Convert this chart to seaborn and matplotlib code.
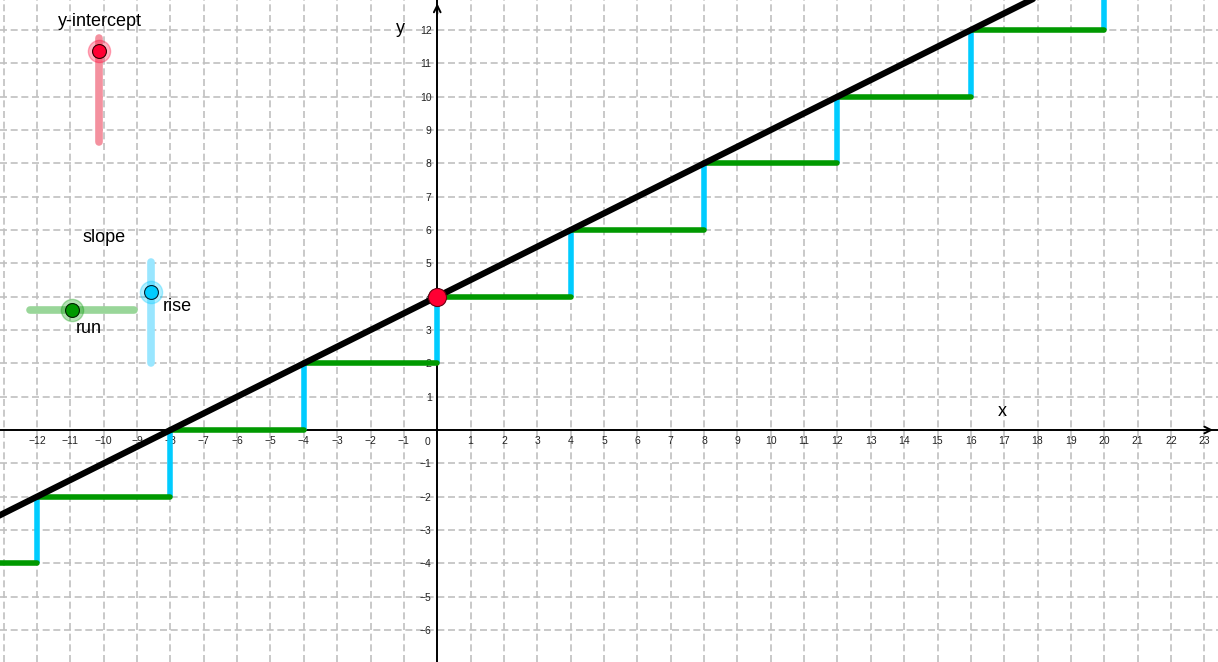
import numpy as np
import pandas as pd
import matplotlib
matplotlib.use("Agg")
import matplotlib.pyplot as plt
import seaborn as sns

# ---- data ----
y_intercept = 4
slope_run = 4
slope_rise = 2
step_x = [-16, -12, -8, -4, 0, 4, 8, 12, 16]
step_y = [-4, -2, 0, 2, 4, 6, 8, 10, 12]
line_x = [-14, 24]
x_grid = list(range(-13, 24))
y_grid = list(range(-6, 13))
x_tick_labels = ["" if v in (-13, 0) else str(v).replace("-", "\u2212") for v in x_grid]
y_tick_labels = ["" if v == 0 else str(v).replace("-", "\u2212") for v in y_grid]

sns.set_theme(style="white")
plt.rcParams['font.family'] = ['Liberation Sans', 'DejaVu Sans']
plt.rcParams['text.color'] = 'black'

fig = plt.figure(figsize=(12.18, 6.62), dpi=100)
ax = fig.add_axes([0, 0, 1, 1])
ax.set_xlim(-13.11, 23.41)
ax.set_ylim(-6.96, 12.9)

# grid
ax.set_xticks(x_grid)
ax.set_xticklabels(x_tick_labels)
ax.set_yticks(y_grid)
ax.set_yticklabels(y_tick_labels)
ax.grid(True, color="#c0c0c0", linestyle=(0, (4.2, 2.2)), linewidth=1.2, zorder=0)
ax.set_axisbelow(True)

# axes through origin
for s in ["top", "right"]:
    ax.spines[s].set_visible(False)
ax.spines["left"].set_position(("data", 0))
ax.spines["bottom"].set_position(("data", 0))
for s in ["left", "bottom"]:
    ax.spines[s].set_color("black")
    ax.spines[s].set_linewidth(1.4)
    ax.spines[s].set_zorder(2)
ax.tick_params(axis="both", which="major", labelsize=7.5, length=0,
               labelcolor="#222222")
ax.tick_params(axis="x", pad=4)
ax.tick_params(axis="y", pad=4)
ax.text(-0.2, -0.2, "0", fontsize=7.5, color="#222222", ha="right", va="top")

# arrowheads
ax.annotate("", xy=(23.35, 0), xytext=(22.9, 0),
            arrowprops=dict(arrowstyle="->", lw=1.4, color="black", mutation_scale=12))
ax.annotate("", xy=(0, 12.88), xytext=(0, 12.4),
            arrowprops=dict(arrowstyle="->", lw=1.4, color="black", mutation_scale=12))
ax.text(-1.1, 12.05, "y", fontsize=13, ha="center", va="center")
ax.text(16.95, 0.55, "x", fontsize=13, ha="center", va="center")

# staircase segments
green_rows, blue_rows = [], []
for i, (sx, sy) in enumerate(zip(step_x, step_y)):
    green_rows += [(i, sx, sy), (i, sx + slope_run, sy)]
    blue_rows += [(i, sx + slope_run, sy), (i, sx + slope_run, sy + slope_rise)]
green_df = pd.DataFrame(green_rows, columns=["seg", "x", "y"])
blue_df = pd.DataFrame(blue_rows, columns=["seg", "x", "y"])

sns.lineplot(data=blue_df, x="x", y="y", units="seg", estimator=None, sort=False,
             color="#00ccff", linewidth=4, ax=ax, zorder=3, solid_capstyle="butt")
sns.lineplot(data=green_df, x="x", y="y", units="seg", estimator=None, sort=False,
             color="#009900", linewidth=4, ax=ax, zorder=4, solid_capstyle="round")

# main line
line_df = pd.DataFrame({"x": line_x,
                        "y": [slope_rise / slope_run * v + y_intercept for v in line_x]})
sns.lineplot(data=line_df, x="x", y="y", color="black", linewidth=4.5, ax=ax, zorder=5)

# y-intercept point
ax.plot([0], [y_intercept], "o", markersize=13, markerfacecolor="#ff0033",
        markeredgecolor="#660011", markeredgewidth=0.8, zorder=6)

# sliders (decorative)
ax.plot([-10.15, -10.15], [8.65, 11.75], color="#f4919f", lw=5.5, solid_capstyle="round", zorder=5)
ax.plot([-10.15], [11.37], "o", markersize=16, color="#ff0033", alpha=0.3, zorder=6)
ax.plot([-10.15], [11.37], "o", markersize=10, markerfacecolor="#ff0033",
        markeredgecolor="#330000", markeredgewidth=0.8, zorder=7)
ax.text(-10.1, 12.27, "y-intercept", fontsize=13, ha="center", va="center")

ax.text(-10.0, 5.77, "slope", fontsize=13, ha="center", va="center")

ax.plot([-12.2, -9.1], [3.6, 3.6], color="#99d699", lw=5.5, solid_capstyle="round", zorder=5)
ax.plot([-10.95], [3.6], "o", markersize=16, color="#009900", alpha=0.3, zorder=6)
ax.plot([-10.95], [3.6], "o", markersize=10, markerfacecolor="#009900",
        markeredgecolor="#002200", markeredgewidth=0.8, zorder=7)
ax.text(-10.45, 3.05, "run", fontsize=13, ha="center", va="center")

ax.plot([-8.58, -8.58], [2.0, 5.05], color="#99e6ff", lw=5.5, solid_capstyle="round", zorder=5)
ax.plot([-8.58], [4.14], "o", markersize=16, color="#00ccff", alpha=0.3, zorder=6)
ax.plot([-8.58], [4.14], "o", markersize=10, markerfacecolor="#00ccff",
        markeredgecolor="#002233", markeredgewidth=0.8, zorder=7)
ax.text(-7.8, 3.7, "rise", fontsize=13, ha="center", va="center")

ax.set_xlabel("")
ax.set_ylabel("")
fig.savefig("out.png", dpi=100)
